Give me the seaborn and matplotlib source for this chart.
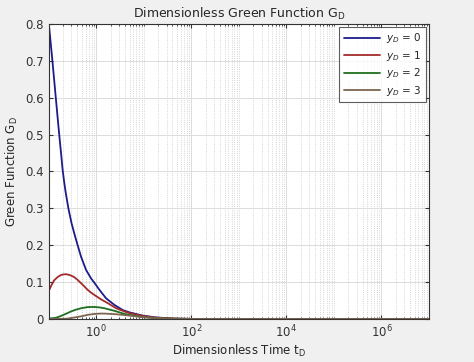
import numpy as np
import pandas as pd
import matplotlib
matplotlib.use('Agg')
import matplotlib.pyplot as plt
import matplotlib.ticker as mticker
import seaborn as sns

# dados (t_D, G_D) para cada y_D
t_y0 = [0.1, 0.117, 0.139, 0.164, 0.18, 0.195, 0.21, 0.225, 0.258, 0.3, 0.35, 0.404, 0.476,
        0.607, 0.773, 0.91, 1.16, 1.6, 2.4, 3.6, 4.9, 9.4, 18, 40, 100, 1e7]
g_y0 = [0.80, 0.71, 0.605, 0.505, 0.452, 0.405, 0.372, 0.345, 0.30, 0.26, 0.228, 0.20, 0.169,
        0.133, 0.110, 0.098, 0.079, 0.056, 0.038, 0.024, 0.018, 0.009, 0.004, 0.001, 0, 0]
t_y1 = [0.1, 0.115, 0.13, 0.155, 0.18, 0.21, 0.24, 0.29, 0.345, 0.41, 0.476, 0.56,
        0.655, 0.78, 0.91, 1.26, 1.73, 2.6, 3.6, 4.9, 9.4, 18, 40, 100, 1e7]
g_y1 = [0.076, 0.093, 0.105, 0.114, 0.119, 0.121, 0.121, 0.118, 0.113, 0.105, 0.097, 0.088,
        0.079, 0.071, 0.065, 0.053, 0.043, 0.029, 0.022, 0.016, 0.008, 0.0035, 0.001, 0, 0]
t_y2 = [0.1, 0.14, 0.18, 0.23, 0.29, 0.37, 0.48, 0.65, 0.91, 1.2, 1.47, 2.4, 3.6, 4.9,
        9.4, 18, 40, 100, 1e7]
g_y2 = [0.001, 0.003, 0.008, 0.014, 0.020, 0.025, 0.029, 0.032, 0.0325, 0.031, 0.029, 0.022,
        0.015, 0.011, 0.005, 0.002, 0.0005, 0, 0]
t_y3 = [0.1, 0.2, 0.25, 0.35, 0.48, 0.65, 0.91, 1.2, 1.47, 2.4, 3.6, 4.9, 9.4, 18, 40, 100, 1e7]
g_y3 = [0, 0.0003, 0.001, 0.004, 0.007, 0.011, 0.0135, 0.0145, 0.0145, 0.013, 0.011, 0.009,
        0.005, 0.002, 0.0005, 0, 0]
rotulos = ['$y_D$ = 0', '$y_D$ = 1', '$y_D$ = 2', '$y_D$ = 3']
cores = ['#1c1c8a', '#a32a2a', '#1f6e1f', '#7d6450']

partes = []
for t, g, r in zip([t_y0, t_y1, t_y2, t_y3], [g_y0, g_y1, g_y2, g_y3], rotulos):
    partes.append(pd.DataFrame({'t': t, 'g': g, 'serie': r}))
dados = pd.concat(partes, ignore_index=True)

sns.set_style('ticks')
plt.rcParams['font.family'] = ['DejaVu Sans']

fig = plt.figure(figsize=(4.74, 3.62), dpi=100, facecolor='#f0f0f0')
ax = fig.add_axes([0.103, 0.119, 0.802, 0.815])
ax.set_facecolor('white')

sns.lineplot(data=dados, x='t', y='g', hue='serie', hue_order=rotulos,
             palette=cores, lw=1.3, ax=ax)

ax.set_xscale('log')
ax.set_xlim(0.1, 1e7)
ax.set_ylim(0, 0.8)
ax.set_yticks(np.arange(0, 0.81, 0.1))
ax.yaxis.set_major_formatter(mticker.FuncFormatter(lambda v, p: '0' if v == 0 else f'{v:.1f}'))
ax.xaxis.set_major_locator(mticker.FixedLocator([1, 1e2, 1e4, 1e6]))
ax.xaxis.set_minor_locator(mticker.LogLocator(base=10, subs=np.arange(1, 10), numticks=20))
ax.xaxis.set_minor_formatter(mticker.NullFormatter())
ax.grid(True, which='major', color='#dcdcdc', lw=0.7)
ax.grid(True, which='minor', axis='x', color='#c8c8c8', lw=0.6, ls=':')
ax.tick_params(which='both', direction='in', top=True, right=True, labelsize=8.5,
               colors='#333333', length=3)
ax.tick_params(which='minor', length=1.5)
for s in ax.spines.values():
    s.set_color('#333333')
    s.set_linewidth(0.8)

ax.set_title('Dimensionless Green Function $\\mathregular{G_D}$', fontsize=9, pad=4)
ax.set_xlabel('Dimensionless Time $\\mathregular{t_D}$', fontsize=8.5, labelpad=2)
ax.set_ylabel('Green Function $\\mathregular{G_D}$', fontsize=8.5, labelpad=4)

leg = ax.legend(loc='upper right', fontsize=7.5, frameon=True, fancybox=False,
                edgecolor='#333333', handlelength=3.5, borderaxespad=0.3,
                labelspacing=0.35, handletextpad=0.6, title=None)
leg.get_frame().set_linewidth(0.8)

fig.savefig('out.png', dpi=100, facecolor=fig.get_facecolor())
